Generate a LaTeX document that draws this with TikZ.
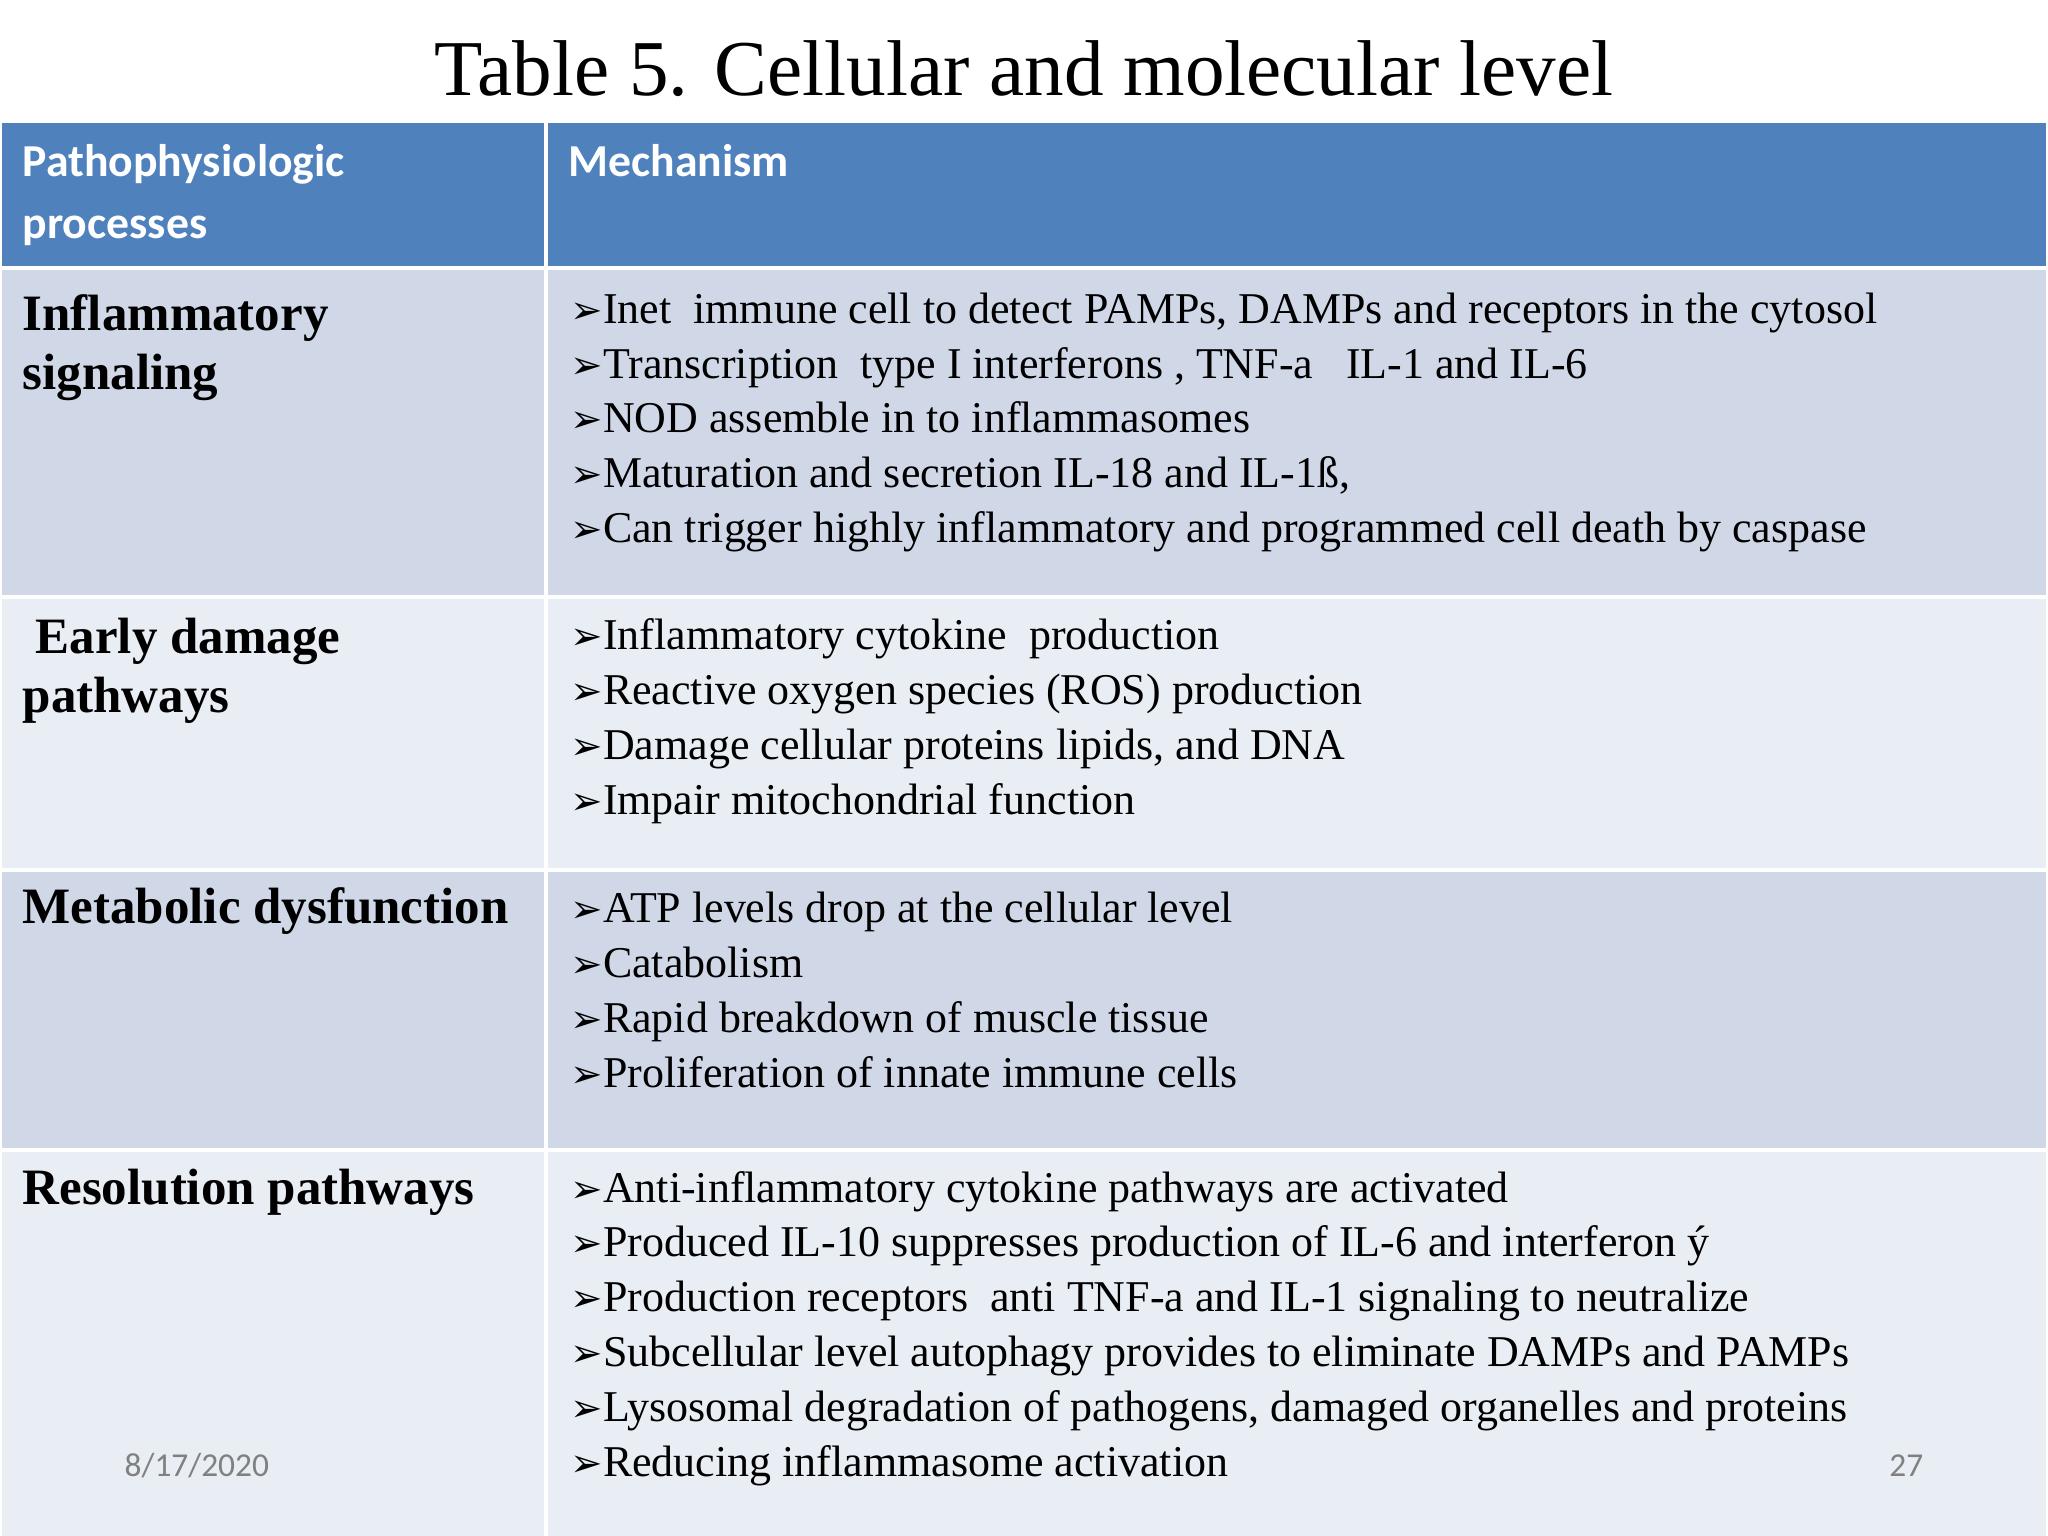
\documentclass[tikz,border=0pt]{standalone}
\usepackage{fontspec}
\setmainfont{Liberation Serif}
\newfontfamily\dej{DejaVu Sans}
\newfontfamily\carl{Carlito}
\definecolor{hdr}{HTML}{4F81BD}
\definecolor{odd}{HTML}{D0D8E8}
\definecolor{even}{HTML}{E9EDF4}
\begin{document}
\begin{tikzpicture}[x=0.01cm,y=-0.01cm,
  bl/.style={anchor=base west,inner sep=0pt,font=\fontsize{12.5}{14}\selectfont},
  lab/.style={anchor=base west,inner sep=0pt,font=\fontsize{14.5}{16}\selectfont\bfseries},
  hd/.style={anchor=base west,inner sep=0pt,text=white,font=\carl\fontsize{13}{15}\selectfont\bfseries},
  cell/.style={draw=white,line width=1.2pt}]
\useasboundingbox (0,0) rectangle (2048,1536);
\fill[white] (0,0) rectangle (2048,1536);
\node[anchor=base,inner sep=0pt,font=\fontsize{22.5}{26}\selectfont] (title) at (1024,95) {Table 5. Cellular and molecular level};
\newcommand\bul{{\dej\fontsize{11}{12}\selectfont ➢}}
% cells
\filldraw[cell,fill=hdr] (0,121) rectangle (546,268);
\filldraw[cell,fill=hdr] (546,121) rectangle (2048,268);
\filldraw[cell,fill=odd] (0,268) rectangle (546,597);
\filldraw[cell,fill=odd] (546,268) rectangle (2048,597);
\filldraw[cell,fill=even] (0,597) rectangle (546,870);
\filldraw[cell,fill=even] (546,597) rectangle (2048,870);
\filldraw[cell,fill=odd] (0,870) rectangle (546,1150);
\filldraw[cell,fill=odd] (546,870) rectangle (2048,1150);
\filldraw[cell,fill=even] (0,1150) rectangle (546,1540);
\filldraw[cell,fill=even] (546,1150) rectangle (2048,1540);
% header
\node[hd] (h1) at (22,176) {Pathophysiologic};
\node[hd] (h2) at (22,238) {processes};
\node[hd] (h3) at (568,176) {Mechanism};
% row1
\node[lab] (l1a) at (22,330) {Inflammatory};
\node[lab] (l1b) at (22,389) {signaling};
\node[bl] (r1a) at (570,323) {\bul Inet\ \ immune cell to detect PAMPs, DAMPs and receptors in the cytosol};
\node[bl] (r1b) at (570,378) {\bul Transcription\ \ type I interferons , TNF-a\ \ \ IL-1 and IL-6};
\node[bl] (r1c) at (570,432) {\bul NOD assemble in to inflammasomes};
\node[bl] (r1d) at (570,487) {\bul Maturation and secretion IL-18 and IL-1ß,};
\node[bl] (r1e) at (570,542) {\bul Can trigger highly inflammatory and programmed cell death by caspase};
% row2
\node[lab] (l2a) at (35,653) {Early damage};
\node[lab] (l2b) at (22,712) {pathways};
\node[bl] (r2a) at (570,649) {\bul Inflammatory cytokine\ \ production};
\node[bl] (r2b) at (570,704) {\bul Reactive oxygen species (ROS) production};
\node[bl] (r2c) at (570,759) {\bul Damage cellular proteins lipids, and DNA};
\node[bl] (r2d) at (570,814) {\bul Impair mitochondrial function};
% row3
\node[lab] (l3a) at (22,923) {Metabolic dysfunction};
\node[bl] (r3a) at (570,922) {\bul ATP levels drop at the cellular level};
\node[bl] (r3b) at (570,977) {\bul Catabolism};
\node[bl] (r3c) at (570,1032) {\bul Rapid breakdown of muscle tissue};
\node[bl] (r3d) at (570,1087) {\bul Proliferation of innate immune cells};
% row4
\node[lab] (l4a) at (22,1204) {Resolution pathways};
\node[bl] (r4a) at (570,1202) {\bul Anti-inflammatory cytokine pathways are activated};
\node[bl] (r4b) at (570,1256) {\bul Produced IL-10 suppresses production of IL-6 and interferon ý};
\node[bl] (r4c) at (570,1311) {\bul Production receptors\ \ anti TNF-a and IL-1 signaling to neutralize};
\node[bl] (r4d) at (570,1366) {\bul Subcellular level autophagy provides to eliminate DAMPs and PAMPs};
\node[bl] (r4e) at (570,1421) {\bul Lysosomal degradation of pathogens, damaged organelles and proteins};
\node[bl] (r4f) at (570,1476) {\bul Reducing inflammasome activation};
\node[anchor=base west,inner sep=0pt,text=gray,font=\carl\fontsize{9.5}{11}\selectfont] (date) at (124,1476) {8/17/2020};
\node[anchor=base east,inner sep=0pt,text=gray,font=\carl\fontsize{9.5}{11}\selectfont] (pg) at (1924,1476) {27};
\end{tikzpicture}
\end{document}
